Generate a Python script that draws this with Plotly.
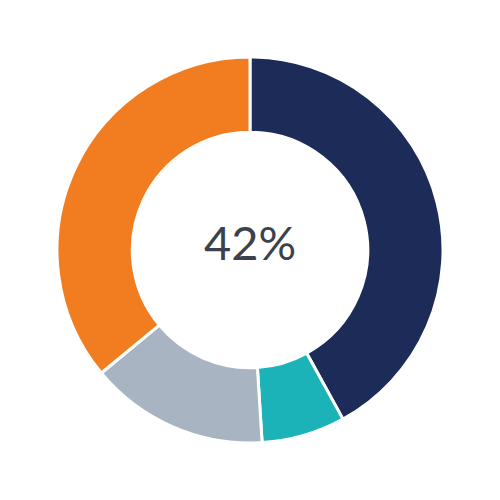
import plotly.graph_objects as go

labels = ["A", "B", "C", "D"]
values = [42, 7, 15, 36]
colors = ["#1c2b58", "#1bb3b8", "#a9b4c2", "#f27d21"]
center_text = "42%"

fig = go.Figure(go.Pie(
    labels=labels,
    values=values,
    hole=0.61,
    sort=False,
    direction="clockwise",
    rotation=0,
    marker=dict(colors=colors, line=dict(color="white", width=3)),
    textinfo="none",
    hoverinfo="none",
    showlegend=False,
))

fig.update_layout(
    width=500, height=500,
    margin=dict(l=49, r=65, t=49, b=65),
    paper_bgcolor="white",
    plot_bgcolor="white",
    annotations=[dict(
        text=center_text, x=0.5, y=0.5, xref="paper", yref="paper", yshift=8,
        showarrow=False, font=dict(family="Lato", size=47, color="#3b424d"),
    )],
)

fig.write_html("out.html")
